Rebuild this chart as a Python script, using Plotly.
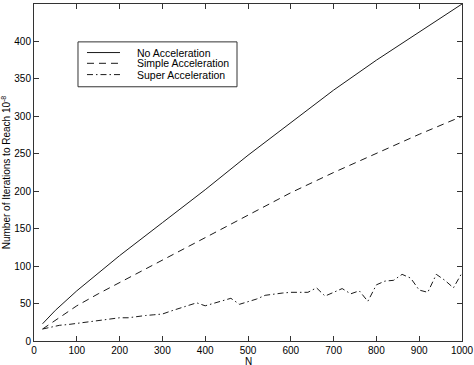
import plotly.graph_objects as go

# ---- data ----
n_smooth = [20, 50, 100, 150, 200, 300, 400, 500, 600, 700, 800, 900, 1000]
no_accel = [23, 41, 67, 91, 114, 158, 202, 248, 292, 335, 375, 413, 450]
simple_accel = [16, 28, 47, 63, 78, 109, 139, 168, 198, 225, 251, 276, 300]

n_super = [20, 40, 60, 80, 100, 120, 140, 160, 180, 200,
           220, 240, 260, 280, 300, 320, 340, 360, 380, 400,
           420, 440, 460, 480, 500, 520, 540, 560, 580, 600,
           620, 640, 660, 680, 700, 720, 740, 760, 780, 800,
           820, 840, 860, 880, 900, 920, 940, 960, 980, 1000]
super_accel = [16, 19, 21, 22, 23.5, 25, 27, 28, 30, 31,
               31, 33, 34, 35, 36, 40, 44, 47, 51, 47,
               50, 54, 57, 49, 52, 56, 61, 63, 64, 65,
               65.5, 65, 71, 60, 65, 70, 63, 67, 53, 75,
               80, 81, 89, 84, 68, 65, 89, 81, 71, 91]

legend_names = ["No Acceleration", "Simple Acceleration", "Super Acceleration"]
x_ticks = list(range(0, 1001, 100))
y_ticks = list(range(0, 451, 50))
x_title = "N"
y_title = "Number of Iterations to Reach 10<sup>-8</sup>"

FONT = "Liberation Sans, Arial, Helvetica, sans-serif"
LINE = "#1a1a1a"
dashes = ["solid", "7px,5px", "6px,3px,1.5px,3px"]

fig = go.Figure()
fig.add_trace(go.Scatter(x=n_smooth, y=no_accel, mode="lines", name=legend_names[0],
                         line=dict(color=LINE, width=1, dash=dashes[0])))
fig.add_trace(go.Scatter(x=n_smooth, y=simple_accel, mode="lines", name=legend_names[1],
                         line=dict(color=LINE, width=1, dash=dashes[1])))
fig.add_trace(go.Scatter(x=n_super, y=super_accel, mode="lines", name=legend_names[2],
                         line=dict(color=LINE, width=1, dash=dashes[2])))

axis_common = dict(showline=True, linecolor="#333", linewidth=1, mirror="ticks",
                   ticks="inside", ticklen=5, tickcolor="#333", tickwidth=1,
                   showgrid=False, zeroline=False,
                   tickfont=dict(family=FONT, size=10, color="black"),
                   automargin=False)

fig.update_layout(
    width=474, height=365,
    margin=dict(l=34, r=12, t=4, b=24),
    paper_bgcolor="white", plot_bgcolor="white",
    showlegend=False,
    font=dict(family=FONT, size=10, color="black"),
    xaxis=dict(range=[0, 1000], tickvals=x_ticks, **axis_common),
    yaxis=dict(range=[0, 450], tickvals=y_ticks,
               title=dict(text=y_title, standoff=3, font=dict(family=FONT, size=10)),
               **axis_common),
)

# x-axis title placed just under the tick labels (MATLAB-style tight layout)
fig.add_annotation(xref="paper", yref="paper", x=0.5, y=0, xanchor="center", yanchor="top",
                   yshift=-14, text=x_title, showarrow=False, borderpad=0,
                   font=dict(family=FONT, size=10, color="black"))

# manual legend box in MATLAB style
box_x0, box_x1, box_y0, box_y1 = 0.1028, 0.4743, 0.7544, 0.8876
fig.add_shape(type="rect", xref="paper", yref="paper", x0=box_x0, x1=box_x1, y0=box_y0, y1=box_y1,
              line=dict(color="#333", width=1), fillcolor="white", layer="above")
rows = [0.8559, 0.8240, 0.7905]
for name, dash, ry in zip(legend_names, dashes, rows):
    fig.add_shape(type="line", xref="paper", yref="paper", x0=0.1238, x1=0.2009, y0=ry, y1=ry,
                  line=dict(color=LINE, width=1, dash=dash), layer="above")
    fig.add_annotation(xref="paper", yref="paper", x=0.238, y=ry, xanchor="left", yanchor="middle",
                       text=name, showarrow=False, borderpad=0,
                       font=dict(family=FONT, size=10.5, color="black"))

fig.write_html("out.html", config={"displayModeBar": False},
               post_script="document.body.style.margin='0';document.body.style.overflow='hidden';")
